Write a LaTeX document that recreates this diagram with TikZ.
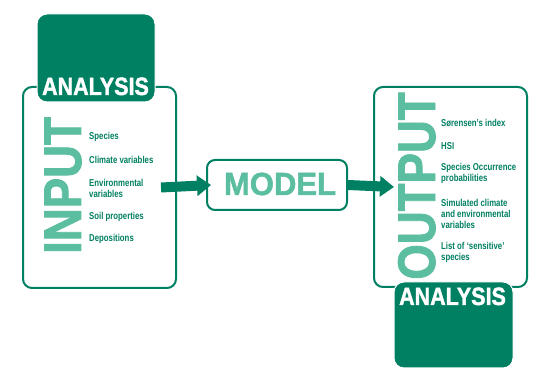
\documentclass[tikz,border=0pt]{standalone}
\usepackage{fontspec}
\setmainfont{Liberation Sans}
\newfontfamily\headfont[FakeStretch=0.86,FakeBold=1.5]{Liberation Sans}
\newfontfamily\modelfont[FakeStretch=0.97,FakeBold=1.5]{Liberation Sans}
\newfontfamily\itemfont[FakeStretch=0.78]{Liberation Sans}
\usetikzlibrary{arrows.meta,positioning,calc}
\definecolor{darkgr}{RGB}{0,128,98}
\definecolor{lightgr}{RGB}{92,190,160}
\tikzset{
  frame/.style={draw=darkgr, line width=2pt, rounded corners=9pt, fill=white},
  anabox/.style={draw=white, line width=1pt, fill=darkgr, rounded corners=10pt},
  anatext/.style={text=white, anchor=base, inner sep=0pt, font=\headfont\bfseries\fontsize{25}{25}\selectfont},
  bigtext/.style={text=lightgr, rotate=90, anchor=base, inner sep=0pt, font=\headfont\bfseries\fontsize{53}{53}\selectfont},
  item/.style={text=darkgr, anchor=west, inner sep=0pt, align=left, font=\itemfont\bfseries\fontsize{10}{11}\selectfont},
  flow/.style={-{Triangle[length=14pt,width=20pt]}, line width=10pt, darkgr},
}
\begin{document}
\begin{tikzpicture}[x=1pt,y=-1pt]
  \useasboundingbox (0,0) rectangle (550,387);
  % input side
  \node[frame, minimum width=153pt, minimum height=201pt] (input) at (99.5,187.5) {};
  \node[anabox, minimum width=118pt, minimum height=88pt] (anatop) at (96,58) {};
  \node[anatext] (anatoptxt) at (95.5,95) {ANALYSIS};
  \node[bigtext] (inputtxt) at (81,185.5) {INPUT};
  \node[item] (species) at (89,137) {Species};
  \node[item] (climate) at (89,160) {Climate variables};
  \node[item] (environ) at (89,188.5) {Environmental\\variables};
  \node[item] (soil) at (89,217) {Soil properties};
  \node[item] (depos) at (89,239) {Depositions};
  % model
  \node[frame, rounded corners=8pt, minimum width=140pt, minimum height=50pt] (model) at (277,185) {};
  \node[text=lightgr, anchor=base, inner sep=0pt, font=\modelfont\bfseries\fontsize{32}{32}\selectfont] (modeltxt) at (280,195) {MODEL};
  % output side
  \node[frame, minimum width=153pt, minimum height=200pt] (output) at (450.5,187) {};
  \node[anabox, minimum width=119pt, minimum height=86pt] (anabot) at (453.5,325) {};
  \node[anatext] (anabottxt) at (452.5,305) {ANALYSIS};
  \node[bigtext] (outputtxt) at (435,186) {OUTPUT};
  \node[item] (sorensen) at (441,123) {Sørensen’s index};
  \node[item] (hsi) at (441,146) {HSI};
  \node[item] (occur) at (441,173.5) {Species Occurrence\\probabilities};
  \node[item] (simul) at (441,213.5) {Simulated climate\\and environmental\\variables};
  \node[item] (sensit) at (441,252.5) {List of ‘sensitive’\\species};
  % arrows
  \draw[flow] ([xshift=-16pt]input.east) -- ([xshift=5pt]model.west);
  \draw[flow] (model.east) -- ([xshift=21pt]output.west);
\end{tikzpicture}
\end{document}
